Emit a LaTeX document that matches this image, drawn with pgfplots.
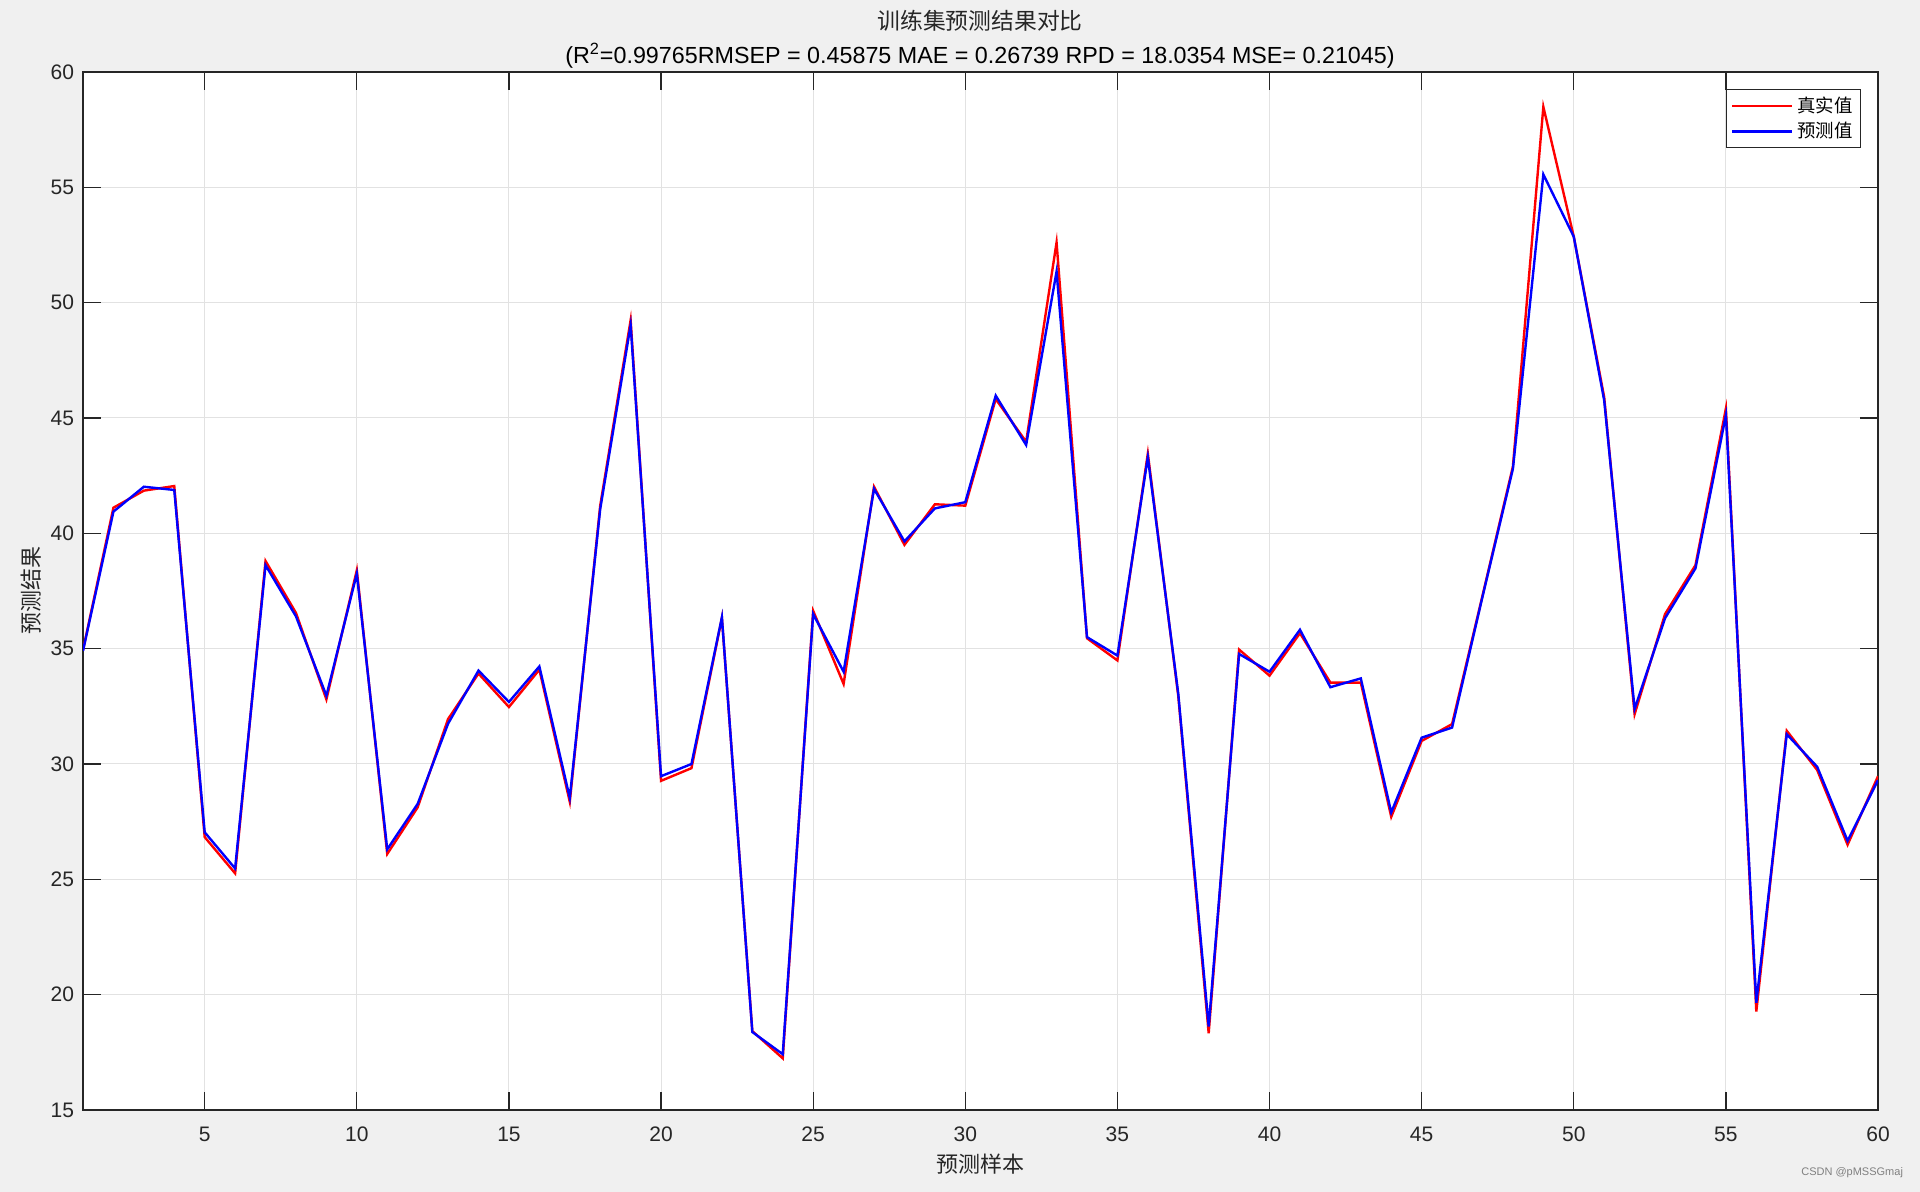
\documentclass[border=0pt]{standalone}
\usepackage{fontspec}
\setmainfont{Liberation Sans}
\newfontfamily\cjk{Noto Sans CJK SC}
\usepackage{pgfplots}
\usepackage{pgfplotstable}
\pgfplotsset{compat=1.18}
\definecolor{bg}{RGB}{240,240,240}
\definecolor{axc}{RGB}{38,38,38}
\definecolor{gridc}{RGB}{226,226,226}

\pgfplotstableread{
x true pred
1 34.94 34.90
2 41.11 40.94
3 41.85 42.02
4 42.05 41.88
5 26.83 27.04
6 25.26 25.47
7 38.80 38.62
8 36.55 36.40
9 32.80 32.96
10 38.40 38.25
11 26.10 26.30
12 28.12 28.27
13 31.95 31.75
14 33.92 34.05
15 32.47 32.69
16 34.09 34.23
17 28.36 28.53
18 41.20 41.05
19 49.24 49.03
20 29.27 29.47
21 29.82 30.00
22 36.33 36.36
23 18.42 18.38
24 17.24 17.42
25 36.64 36.50
26 33.47 34.00
27 42.02 41.93
28 39.50 39.65
29 41.26 41.08
30 41.20 41.35
31 45.82 45.97
32 43.97 43.83
33 52.61 51.35
34 35.45 35.50
35 34.49 34.70
36 43.46 43.30
37 32.95 33.05
38 18.33 18.62
39 34.96 34.77
40 33.83 34.00
41 35.67 35.82
42 33.53 33.33
43 33.53 33.71
44 27.71 27.90
45 31.00 31.14
46 31.73 31.58
47 37.30 37.25
48 42.90 42.80
49 58.49 55.56
50 52.86 52.86
51 45.90 45.76
52 32.16 32.39
53 36.50 36.32
54 38.62 38.48
55 45.41 45.12
56 19.27 19.65
57 31.44 31.29
58 29.74 29.88
59 26.50 26.67
60 29.47 29.30
}\data

\begin{document}
\begin{tikzpicture}[x=1pt,y=1pt]
\fill[bg] (0,0) rectangle (960,596);
\begin{axis}[
  at={(41.5pt,41pt)}, anchor=south west,
  scale only axis, width=897.5pt, height=519pt,
  xmin=1, xmax=60, ymin=15, ymax=60,
  xtick={5,10,...,60}, ytick={15,20,...,60},
  grid=major, grid style={gridc, line width=0.5pt},
  axis line style={axc, line width=0.6pt},
  tick style={axc, line width=0.6pt},
  major tick length=9pt,
  tick align=inside, tick pos=both,
  axis background/.style={fill=white},
  /pgf/number format/assume math mode=true,
  tick label style={font=\fontsize{10.5}{10.5}\selectfont, text=axc},
  xticklabel style={yshift=-4.8pt},
  yticklabel style={xshift=-1pt},
  xlabel={\cjk 预测样本}, ylabel={\cjk 预测结果},
  label style={font=\fontsize{11}{11}\selectfont, text=axc},
  xlabel style={yshift=0.5pt},
  ylabel style={yshift=-2pt},
  legend style={at={(0.9905,0.9836)}, anchor=north east, draw=axc, line width=0.5pt,
    font=\cjk\fontsize{9.2}{9.2}\selectfont, fill=white, row sep=-0.5pt,
    inner xsep=2pt, inner ysep=1.5pt},
  legend cell align=left,
  legend image code/.code={\draw[#1, line width=1.2pt] (0pt,0pt) -- (30pt,0pt);},
]
\addplot[red, line width=1.2pt] table[x=x, y=true] {\data};
\addlegendentry{真实值}
\addplot[blue, line width=1.2pt] table[x=x, y=pred] {\data};
\addlegendentry{预测值}
\end{axis}
\node[font=\cjk\fontsize{11.4}{11.4}\selectfont, text=axc] at (490,585.5) {训练集预测结果对比};
\node[font=\fontsize{11.65}{11.65}\selectfont, text=black] at (490,568) {(R\textsuperscript{2}=0.99765RMSEP = 0.45875 MAE = 0.26739 RPD = 18.0354 MSE= 0.21045)};
\node[font=\fontsize{5.5}{5.5}\selectfont, text=gray, anchor=east] at (955,9.5) {CSDN @pMSSGmaj};
\end{tikzpicture}
\end{document}
